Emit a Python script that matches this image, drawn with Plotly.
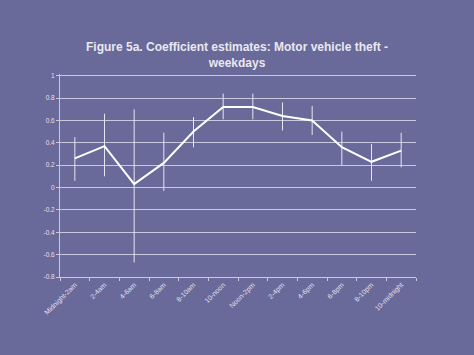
import plotly.graph_objects as go

categories = ["Midnight-2am", "2-4am", "4-6am", "6-8am", "8-10am", "10-noon",
              "Noon-2pm", "2-4pm", "4-6pm", "6-8pm", "8-10pm", "10-midnight"]
estimates = [0.26, 0.37, 0.03, 0.22, 0.50, 0.72, 0.72, 0.64, 0.60, 0.36, 0.23, 0.33]
upper = [0.45, 0.66, 0.70, 0.49, 0.63, 0.84, 0.84, 0.76, 0.73, 0.50, 0.39, 0.49]
lower = [0.06, 0.10, -0.67, -0.03, 0.36, 0.61, 0.61, 0.51, 0.47, 0.20, 0.06, 0.18]
y_ticks = [1, 0.8, 0.6, 0.4, 0.2, 0, -0.2, -0.4, -0.6, -0.8]

err_plus = [u - e for u, e in zip(upper, estimates)]
err_minus = [e - l for e, l in zip(estimates, lower)]

bg = "#69699A"
grid = "#C8C8E0"

fig = go.Figure()
fig.add_trace(go.Scatter(
    x=categories, y=estimates, mode="lines",
    line=dict(color="white", width=2),
    error_y=dict(type="data", symmetric=False, array=err_plus, arrayminus=err_minus,
                 color="#E6E6F2", thickness=1, width=0),
    showlegend=False,
))

fig.update_layout(
    width=474, height=355,
    paper_bgcolor=bg, plot_bgcolor=bg,
    margin=dict(l=60, r=58, t=74, b=78),
    title=dict(text="<b>Figure 5a. Coefficient estimates: Motor vehicle theft -<br>weekdays</b>",
               x=0.5, xanchor="center", y=0.855, yanchor="middle",
               font=dict(family="Liberation Sans, Arial", size=12, color="#E8E8F0")),
    font=dict(family="Liberation Sans, Arial", color="#E0E0EE"),
)
fig.update_xaxes(
    type="category", categoryorder="array", categoryarray=categories,
    tickangle=-45, tickfont=dict(size=7, color="#E0E0EE"),
    showgrid=False, showline=True, linecolor=grid, linewidth=1,
    ticks="outside", ticklen=3, tickcolor=grid, tickson="boundaries",
    range=[-0.5, len(categories) - 0.5], zeroline=False,
)
fig.update_yaxes(
    range=[-0.8, 1.015], tickvals=y_ticks, ticktext=[str(v) for v in y_ticks],
    tickfont=dict(size=6.5, color="#E0E0EE"),
    showgrid=True, gridcolor=grid, gridwidth=1.2,
    showline=True, linecolor=grid, linewidth=1,
    ticks="outside", ticklen=3, tickcolor=grid, zeroline=False,
)

fig.write_html("out.html")
